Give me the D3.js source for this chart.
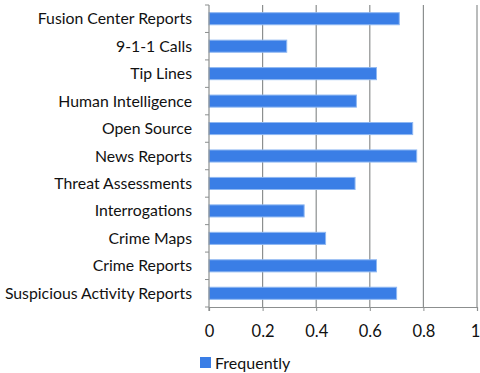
<!DOCTYPE html>
<html>
<head>
<meta charset="utf-8">
<script src="https://cdn.jsdelivr.net/npm/d3@7"></script>
<style>
  body { margin: 0; background: #fff; }
  text { font-family: Lato, "Open Sans", sans-serif; fill: #111; }
</style>
</head>
<body>
<svg id="chart" width="480" height="373"></svg>
<script>
// categories top to bottom
const categories = [
  "Fusion Center Reports", "9-1-1 Calls", "Tip Lines", "Human Intelligence",
  "Open Source", "News Reports", "Threat Assessments", "Interrogations",
  "Crime Maps", "Crime Reports", "Suspicious Activity Reports"
];
const frequently = [0.71, 0.29, 0.625, 0.55, 0.76, 0.775, 0.545, 0.355, 0.435, 0.625, 0.70];
const xTicks = [0, 0.2, 0.4, 0.6, 0.8, 1];
const seriesName = "Frequently";

const margin = { top: 5, right: 3, bottom: 66, left: 209 };
const width = 480 - margin.left - margin.right;
const height = 373 - margin.top - margin.bottom;

const svg = d3.select("#chart");
const g = svg.append("g").attr("transform", `translate(${margin.left},${margin.top})`);

const x = d3.scaleLinear().domain([0, 1]).range([0, width]);
const y = d3.scaleBand().domain(categories).range([0, height]).paddingInner(0.56).paddingOuter(0.28);

// vertical gridlines
g.selectAll(".grid")
  .data(xTicks.slice(1))
  .join("line")
  .attr("x1", d => x(d)).attr("x2", d => x(d))
  .attr("y1", 0).attr("y2", height)
  .attr("stroke", "#8c8f8f").attr("stroke-width", 1.2);

// bars
g.selectAll(".bar")
  .data(categories)
  .join("rect")
  .attr("x", x(0))
  .attr("y", d => y(d))
  .attr("width", (d, i) => x(frequently[i]))
  .attr("height", y.bandwidth())
  .attr("fill", "#3a7ee6")
  .attr("stroke", "#8fb8f2")
  .attr("stroke-width", 1);

// left axis with ticks between categories
const step = height / categories.length;
g.append("line")
  .attr("x1", 0).attr("x2", 0).attr("y1", 0).attr("y2", height + 4)
  .attr("stroke", "#8c8f8f").attr("stroke-width", 1.2);
g.selectAll(".ytick")
  .data(d3.range(categories.length + 1))
  .join("line")
  .attr("x1", -4).attr("x2", 0)
  .attr("y1", i => i * step).attr("y2", i => i * step)
  .attr("stroke", "#8c8f8f");

// category labels
g.selectAll(".ylabel")
  .data(categories)
  .join("text")
  .attr("x", -17)
  .attr("y", d => y(d) + y.bandwidth() / 2)
  .attr("dy", "0.35em")
  .attr("text-anchor", "end")
  .attr("font-size", 15.8)
  .text(d => d);

// keep the longest label inside the left edge
g.selectAll("text").filter(d => d === "Suspicious Activity Reports")
  .each(function () {
    const w = this.getComputedTextLength();
    if (w > 190) d3.select(this).attr("textLength", 190).attr("lengthAdjust", "spacingAndGlyphs");
  });

// bottom axis
const xAxis = g.append("g")
  .attr("transform", `translate(0,${height})`)
  .call(d3.axisBottom(x).tickValues(xTicks).tickFormat(d => d === 0 || d === 1 ? d3.format("d")(d) : d3.format(".1f")(d)).tickSize(4).tickPadding(14));
xAxis.select(".domain").attr("stroke", "#8c8f8f").attr("stroke-width", 1.2);
xAxis.selectAll(".tick line").attr("stroke", "#8c8f8f");
xAxis.selectAll(".tick text").attr("font-size", 16.5).attr("font-family", "Lato, sans-serif").attr("fill", "#111");
xAxis.selectAll(".tick text").filter(d => d === 1).attr("dx", -2);

// legend
const legend = svg.append("g").attr("transform", "translate(200,357)");
legend.append("rect").attr("width", 11).attr("height", 11).attr("fill", "#3a7ee6");
legend.append("text").attr("x", 15).attr("y", 6).attr("dy", "0.35em").attr("font-size", 16).text(seriesName);
</script>
</body>
</html>
